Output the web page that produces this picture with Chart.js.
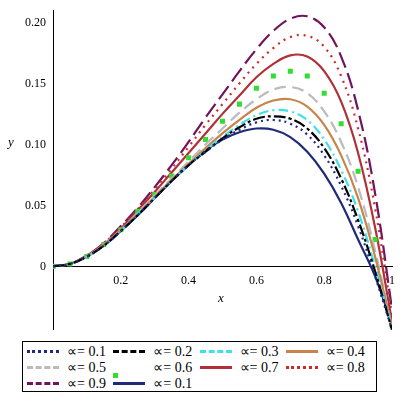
<!DOCTYPE html>
<html><head>
<script src="https://cdn.jsdelivr.net/npm/chart.js@4"></script>
<style>
body{margin:0;background:#fff;font-family:"Liberation Serif",serif;}
#wrap{position:relative;width:400px;height:340px;}
#lg{position:absolute;left:22px;top:341px;width:355px;height:51px;border:1px solid #000;box-sizing:border-box;font-size:14px;display:grid;grid-template-columns:repeat(4,1fr);padding:1px 4px;}
#lg div{display:flex;align-items:center;height:16px;}
#lg span.s{display:inline-block;width:32px;height:0;margin-right:8px;}
.lab{position:absolute;font-style:italic;font-size:13px;}
</style></head>
<body>
<div id="wrap"><canvas id="c" width="400" height="340"></canvas>
<span class="lab" style="left:8px;top:134px;">y</span>
<span class="lab" style="left:218px;top:290px;">x</span></div>
<div id="lg"></div>
<script>
// x values and the curves for each alpha
const xs = [0,0.05,0.1,0.15,0.2,0.25,0.3,0.35,0.4,0.45,0.5,0.55,0.6,0.65,0.7,0.75,0.8,0.85,0.9,0.95,1.0];
const a01dot = [0,0.002,0.008,0.017,0.029,0.042,0.056,0.070,0.083,0.094,0.104,0.112,0.118,0.120,0.117,0.108,0.091,0.066,0.033,-0.008,-0.052];
const a02 = [0,0.002,0.008,0.017,0.029,0.042,0.056,0.070,0.083,0.094,0.105,0.114,0.121,0.123,0.121,0.113,0.097,0.072,0.038,-0.004,-0.052];
const a03 = [0,0.002,0.008,0.017,0.029,0.043,0.056,0.070,0.083,0.095,0.106,0.116,0.124,0.128,0.127,0.120,0.104,0.079,0.045,0.000,-0.050];
const a04 = [0,0.002,0.008,0.018,0.030,0.043,0.057,0.071,0.084,0.097,0.109,0.120,0.130,0.136,0.137,0.131,0.116,0.091,0.056,0.008,-0.050];
const a05 = [0,0.002,0.008,0.018,0.030,0.044,0.058,0.072,0.086,0.100,0.113,0.126,0.137,0.145,0.147,0.142,0.127,0.102,0.065,0.013,-0.050];
const a06 = [0,0.002,0.008,0.018,0.030,0.045,0.059,0.074,0.089,0.104,0.119,0.133,0.146,0.156,0.160,0.156,0.142,0.117,0.078,0.022,-0.048];
const a07 = [0,0.002,0.009,0.018,0.031,0.046,0.061,0.077,0.093,0.109,0.125,0.140,0.155,0.166,0.173,0.172,0.160,0.135,0.093,0.032,-0.045];
const a08 = [0,0.002,0.009,0.019,0.032,0.047,0.063,0.080,0.098,0.116,0.133,0.150,0.166,0.179,0.188,0.189,0.180,0.156,0.113,0.048,-0.040];
const a09 = [0,0.002,0.009,0.019,0.033,0.048,0.065,0.083,0.102,0.122,0.141,0.160,0.178,0.193,0.203,0.205,0.196,0.172,0.128,0.060,-0.035];
const a01 = [0,0.002,0.008,0.017,0.029,0.042,0.056,0.070,0.083,0.095,0.104,0.110,0.113,0.112,0.106,0.094,0.076,0.052,0.022,-0.008,-0.048];
const xTicks = [0.2,0.4,0.6,0.8,1];
const yTicks = [0,0.05,0.10,0.15,0.20];

const series = [
  {label:'∝= 0.1', d:a01dot, c:'#1c2a86', dash:[2,4], css:'dotted'},
  {label:'∝= 0.2', d:a02, c:'#000000', dash:[12,3,3,3], css:'dashed'},
  {label:'∝= 0.3', d:a03, c:'#3fe0e8', dash:[10,4,2,4], css:'dashed'},
  {label:'∝= 0.4', d:a04, c:'#c8844a', dash:[], css:'solid'},
  {label:'∝= 0.5', d:a05, c:'#bbbbbb', dash:[12,6], css:'dashed'},
  {label:'∝= 0.6', d:a06, c:'#33dd33', dash:null, css:'none'},
  {label:'∝= 0.7', d:a07, c:'#b0303a', dash:[], css:'solid'},
  {label:'∝= 0.8', d:a08, c:'#cc2a2a', dash:[2,5], css:'dotted'},
  {label:'∝= 0.9', d:a09, c:'#70145e', dash:[16,6], css:'dashed'},
  {label:'∝= 0.1', d:a01, c:'#1f2a78', dash:[], css:'solid'}
];

const datasets = series.map(s => ({
  label: s.label,
  data: xs.map((x,i) => ({x:x, y:s.d[i]})),
  borderColor: s.c,
  backgroundColor: s.c,
  borderWidth: 2.2,
  borderDash: s.dash || [],
  showLine: s.dash !== null,
  pointRadius: s.dash === null ? 2 : 0,
  pointStyle: 'rect',
  tension: 0.4
}));

new Chart(document.getElementById('c'), {
  type: 'scatter',
  data: {datasets: datasets},
  options: {
    responsive: false, animation: false,
    layout: {padding: {top: 5, right: 8, left: 0, bottom: 8}},
    plugins: {legend: {display: false}, tooltip: {enabled: false}},
    scales: {
      x: {type:'linear', min:0, max:1, position:{y:0},
        grid:{display:false, drawTicks:true, tickLength:4},
        border:{color:'#000'},
        afterBuildTicks: ax => { ax.ticks = xTicks.map(v => ({value:v})); },
        ticks:{color:'#000', font:{family:'Liberation Serif', size:12}, callback: v => v === 1 ? '1' : v.toFixed(1)}},
      y: {min:-0.052, max:0.21, afterFit: ax => { ax.width = 53; },
        grid:{display:false, tickLength:4},
        border:{color:'#000'},
        afterBuildTicks: ax => { ax.ticks = yTicks.map(v => ({value:v})); },
        ticks:{color:'#000', font:{family:'Liberation Serif', size:12}, callback: v => v === 0 ? '0' : v.toFixed(2)}}
    }
  }
});

const lg = document.getElementById('lg');
series.forEach(s => {
  const el = document.createElement('div');
  const sw = s.css === 'none'
    ? '<span class="s"><i style="display:inline-block;width:5px;height:5px;background:'+s.c+';vertical-align:middle"></i></span>'
    : '<span class="s" style="border-top:3px '+s.css+' '+s.c+'"></span>';
  el.innerHTML = sw + s.label;
  lg.appendChild(el);
});
</script>
</body></html>
